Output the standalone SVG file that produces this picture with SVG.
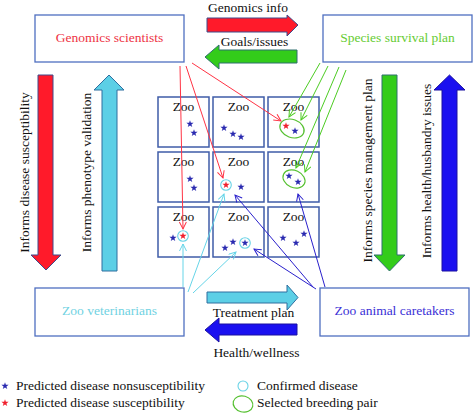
<svg xmlns="http://www.w3.org/2000/svg" xmlns:xlink="http://www.w3.org/1999/xlink" width="474" height="414" viewBox="0 0 474 414">
<style>
text{font-family:"Liberation Serif","Times New Roman",serif;font-size:13.5px;fill:#111}
.box{fill:#fff;stroke:#4f6fc0;stroke-width:1.3}
.cell{fill:#fff;stroke:#3f5ca8;stroke-width:1.5}
.mid{text-anchor:middle}
.bs{fill:#2a2ab0}
.rs{fill:#f0202e}
.cc{fill:none;stroke:#6ad3e6;stroke-width:1.1}
.ge{fill:none;stroke:#55c030;stroke-width:1.2}
.lr{stroke:#ff3344;stroke-width:1;fill:none;marker-end:url(#mr)}
.lg{stroke:#4ccc22;stroke-width:1;fill:none;marker-end:url(#mg)}
.lc{stroke:#66d5e8;stroke-width:1;fill:none;marker-end:url(#mc)}
.lb{stroke:#2a20cc;stroke-width:1;fill:none;marker-end:url(#mb)}
</style>
<defs>
<path id="star" d="M0,-3.8 L0.88,-1.21 L3.61,-1.17 L1.43,0.46 L2.23,3.07 L0,1.5 L-2.23,3.07 L-1.43,0.46 L-3.61,-1.17 L-0.88,-1.21 Z"/>
<marker id="mr" markerUnits="userSpaceOnUse" markerWidth="10" markerHeight="10" refX="8" refY="4" orient="auto"><path d="M1,0.5 L8,4 L1,7.5" fill="none" stroke="#ff3344" stroke-width="1"/></marker>
<marker id="mg" markerUnits="userSpaceOnUse" markerWidth="10" markerHeight="10" refX="8" refY="4" orient="auto"><path d="M1,0.5 L8,4 L1,7.5" fill="none" stroke="#4ccc22" stroke-width="1"/></marker>
<marker id="mc" markerUnits="userSpaceOnUse" markerWidth="10" markerHeight="10" refX="8" refY="4" orient="auto"><path d="M1,0.5 L8,4 L1,7.5" fill="none" stroke="#66d5e8" stroke-width="1"/></marker>
<marker id="mb" markerUnits="userSpaceOnUse" markerWidth="10" markerHeight="10" refX="8" refY="4" orient="auto"><path d="M1,0.5 L8,4 L1,7.5" fill="none" stroke="#2a20cc" stroke-width="1"/></marker>
</defs>
<rect width="474" height="414" fill="#fff"/>

<g id="genomics-scientists">
<rect class="box" x="35" y="15" width="149" height="47"/>
<text class="mid" x="109.5" y="42" style="fill:#ee3344">Genomics scientists</text>
</g>
<g id="species-survival-plan">
<rect class="box" x="323" y="15" width="149" height="47"/>
<text class="mid" x="397.5" y="42" style="fill:#66cc33">Species survival plan</text>
</g>
<g id="zoo-veterinarians">
<rect class="box" x="35" y="288" width="149" height="48"/>
<text class="mid" x="109.5" y="315" style="fill:#70d2e2">Zoo veterinarians</text>
</g>
<g id="zoo-animal-caretakers">
<rect class="box" x="320" y="288" width="149" height="48"/>
<text class="mid" x="394.5" y="315" style="fill:#3a2fd6">Zoo animal caretakers</text>
</g>

<g id="flows">
<path d="M38,75 H53 V255 H61 L46,270 L31,255 H38 Z" fill="#ff1a2a" stroke="#3f4a8a" stroke-width="1"/>
<path d="M102,271 H117 V90 H124 L109,75 L94,90 H102 Z" fill="#5ccfe6" stroke="#2f6f9f" stroke-width="1"/>
<path d="M382,75 H397 V255 H405 L389.5,271 L374,255 H382 Z" fill="#33cc1a" stroke="#2f6f6f" stroke-width="1"/>
<path d="M442,271 H457 V90 H465 L449.5,75 L434,90 H442 Z" fill="#1a10f0" stroke="#1a10a0" stroke-width="1"/>
<path d="M207,18 H287 V15 L298,25 L287,36 V32 H207 Z" fill="#ff1a2a" stroke="#3f4a8a" stroke-width="1"/>
<path d="M297,50 H219 V45 L205,57 L219,69 V63 H297 Z" fill="#33cc1a" stroke="#2f6f6f" stroke-width="1"/>
<path d="M207,292 H287 V285 L298,297.5 L287,310 V303 H207 Z" fill="#5ccfe6" stroke="#2f6f9f" stroke-width="1"/>
<path d="M297,324 H219 V318 L205,330 L219,342 V335 H297 Z" fill="#1a10f0" stroke="#1a10a0" stroke-width="1"/>
<text class="mid" x="248" y="12">Genomics info</text>
<text class="mid" x="254.5" y="46">Goals/issues</text>
<text class="mid" x="253.5" y="317">Treatment plan</text>
<text class="mid" x="256.5" y="357">Health/wellness</text>
<text class="mid" transform="translate(29,172.5) rotate(-90)">Informs disease susceptibility</text>
<text class="mid" transform="translate(91,172.5) rotate(-90)">Informs phenotype validation</text>
<text class="mid" transform="translate(372,170.5) rotate(-90)">Informs species management plan</text>
<text class="mid" transform="translate(431,171) rotate(-90)">Informs health/husbandry issues</text>
</g>

<g id="zoo-1-1"><rect class="cell" x="158" y="97" width="51" height="50"/><text class="mid" x="183.5" y="111">Zoo</text>
<use href="#star" x="190" y="124" class="bs"/><use href="#star" x="194" y="133" class="bs"/></g>
<g id="zoo-1-2"><rect class="cell" x="213" y="97" width="51" height="50"/><text class="mid" x="238.5" y="111">Zoo</text>
<use href="#star" x="224" y="128" class="bs"/><use href="#star" x="233" y="134" class="bs"/><use href="#star" x="241" y="137" class="bs"/></g>
<g id="zoo-1-3"><rect class="cell" x="268" y="97" width="51" height="50"/><text class="mid" x="293.5" y="111">Zoo</text>
<use href="#star" x="286" y="126" class="rs"/><use href="#star" x="295" y="131" class="bs"/>
<ellipse class="ge" cx="292" cy="128.5" rx="12.5" ry="9" transform="rotate(20 292 128.5)"/></g>
<g id="zoo-2-1"><rect class="cell" x="158" y="152" width="51" height="50"/><text class="mid" x="183.5" y="166">Zoo</text>
<use href="#star" x="190" y="179" class="bs"/><use href="#star" x="194" y="188" class="bs"/></g>
<g id="zoo-2-2"><rect class="cell" x="213" y="152" width="51" height="50"/><text class="mid" x="238.5" y="166">Zoo</text>
<use href="#star" x="226" y="185" class="rs"/><circle class="cc" cx="226" cy="185" r="5.3"/><use href="#star" x="241" y="187" class="bs"/></g>
<g id="zoo-2-3"><rect class="cell" x="268" y="152" width="51" height="50"/><text class="mid" x="293.5" y="166">Zoo</text>
<use href="#star" x="289" y="176" class="bs"/><use href="#star" x="298" y="182" class="bs"/>
<ellipse class="ge" cx="294" cy="179" rx="11.5" ry="8.5" transform="rotate(25 294 179)"/></g>
<g id="zoo-3-1"><rect class="cell" x="158" y="207" width="51" height="50"/><text class="mid" x="183.5" y="221">Zoo</text>
<use href="#star" x="173" y="238" class="bs"/><use href="#star" x="183" y="236" class="rs"/><circle class="cc" cx="183" cy="236" r="5.3"/></g>
<g id="zoo-3-2"><rect class="cell" x="213" y="207" width="51" height="50"/><text class="mid" x="238.5" y="221">Zoo</text>
<use href="#star" x="225" y="248" class="bs"/><use href="#star" x="233" y="242" class="bs"/><use href="#star" x="245" y="243" class="bs"/><circle class="cc" cx="245" cy="243" r="5.3"/></g>
<g id="zoo-3-3"><rect class="cell" x="268" y="207" width="51" height="50"/><text class="mid" x="293.5" y="221">Zoo</text>
<use href="#star" x="283" y="238" class="bs"/><use href="#star" x="296" y="243" class="bs"/><use href="#star" x="304" y="234" class="bs"/></g>

<g id="connectors">
<path class="lr" d="M180,66 L183,229"/>
<path class="lr" d="M186,66 L223,178"/>
<path class="lr" d="M192,63 L281,121"/>
<path class="lg" d="M320,63 L289,117"/>
<path class="lg" d="M328,66 L301,120"/>
<path class="lg" d="M339,67 L296,168"/>
<path class="lg" d="M346,70 L305,172"/>
<path class="lc" d="M183,287 L183,244"/>
<path class="lc" d="M188,292 L224,194"/>
<path class="lc" d="M193,293 L236,252"/>
<path class="lb" d="M316,289 L254,249"/>
<path class="lb" d="M313,287 L235,195"/>
<path class="lb" d="M325,287 L298,194"/>
</g>

<g id="legend">
<use href="#star" x="5" y="386" class="bs"/>
<text x="16" y="390">Predicted disease nonsusceptibility</text>
<use href="#star" x="5" y="403" class="rs"/>
<text x="16" y="407">Predicted disease susceptibility</text>
<circle class="cc" cx="243" cy="386" r="5"/>
<text x="257" y="390">Confirmed disease</text>
<ellipse class="ge" cx="243" cy="404" rx="10" ry="8" transform="rotate(15 243 404)"/>
<text x="257" y="407">Selected breeding pair</text>
</g>
</svg>
